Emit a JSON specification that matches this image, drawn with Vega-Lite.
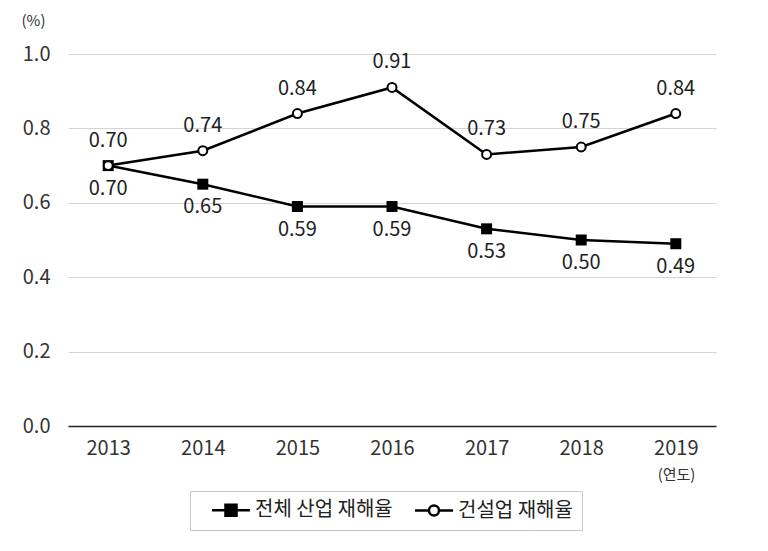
{
  "$schema": "https://vega.github.io/schema/vega-lite/v6.json",
  "width": 648,
  "height": 372,
  "autosize": "none",
  "padding": {"left": 68, "top": 54, "right": 52, "bottom": 125},
  "background": "white",
  "config": {
    "font": "Noto Sans CJK KR",
    "view": {"stroke": null}
  },
  "data": {
    "values": [
      {"year": "2013", "series": "전체 산업 재해율", "rate": 0.70},
      {"year": "2014", "series": "전체 산업 재해율", "rate": 0.65},
      {"year": "2015", "series": "전체 산업 재해율", "rate": 0.59},
      {"year": "2016", "series": "전체 산업 재해율", "rate": 0.59},
      {"year": "2017", "series": "전체 산업 재해율", "rate": 0.53},
      {"year": "2018", "series": "전체 산업 재해율", "rate": 0.50},
      {"year": "2019", "series": "전체 산업 재해율", "rate": 0.49},
      {"year": "2013", "series": "건설업 재해율", "rate": 0.70},
      {"year": "2014", "series": "건설업 재해율", "rate": 0.74},
      {"year": "2015", "series": "건설업 재해율", "rate": 0.84},
      {"year": "2016", "series": "건설업 재해율", "rate": 0.91},
      {"year": "2017", "series": "건설업 재해율", "rate": 0.73},
      {"year": "2018", "series": "건설업 재해율", "rate": 0.75},
      {"year": "2019", "series": "건설업 재해율", "rate": 0.84}
    ]
  },
  "encoding": {
    "x": {
      "field": "year",
      "type": "ordinal",
      "scale": {"type": "point", "padding": 0.425},
      "axis": {
        "title": "(연도)",
        "titleX": 608,
        "titleY": 48,
        "titleAlign": "center",
        "titleBaseline": "middle",
        "titleFontSize": 15,
        "titleFontWeight": "normal",
        "titleColor": "#333",
        "labelAngle": 0,
        "labelFontSize": 20,
        "labelColor": "#333",
        "labelPadding": 12,
        "ticks": false,
        "domainColor": "#222",
        "domainWidth": 1.5
      }
    },
    "y": {
      "field": "rate",
      "type": "quantitative",
      "scale": {"domain": [0, 1]},
      "axis": {
        "values": [0, 0.2, 0.4, 0.6, 0.8, 1.0],
        "format": ".1f",
        "title": "(%)",
        "titleAngle": 0,
        "titleX": -47,
        "titleY": -34,
        "titleAlign": "left",
        "titleBaseline": "middle",
        "titleFontSize": 15,
        "titleFontWeight": "normal",
        "titleColor": "#333",
        "labelFontSize": 20,
        "labelColor": "#333",
        "labelPadding": 18,
        "ticks": false,
        "domain": false,
        "gridColor": "#d4d4d4"
      }
    }
  },
  "layer": [
    {
      "mark": {"type": "line", "strokeWidth": 2.5},
      "encoding": {
        "color": {
          "field": "series",
          "type": "nominal",
          "scale": {"domain": ["전체 산업 재해율", "건설업 재해율"], "range": ["black", "black"]},
          "legend": {
            "title": null,
            "orient": "none",
            "legendX": 122,
            "legendY": 437,
            "direction": "horizontal",
            "labelFontSize": 20,
            "labelColor": "#222",
            "labelExpr": "datum.value === '건설업 재해율' ? datum.value + '\u2003' : datum.value",
            "symbolSize": 144,
            "symbolOffset": 22,
            "symbolStrokeWidth": 2.5,
            "labelOffset": 14,
            "columnPadding": 9,
            "padding": 9,
            "strokeColor": "#c8c8c8",
            "fillColor": "white",
            "encode": {
              "symbols": {
                "update": {
                  "shape": {"signal": "datum.value === '전체 산업 재해율' ? 'M-3.17,0L3.17,0M-0.92,-0.92L0.92,-0.92L0.92,0.92L-0.92,0.92Z' : 'M-3.17,0L-0.83,0M0.83,0L3.17,0M0.83,0A0.83,0.83 0 1,1 -0.83,0A0.83,0.83 0 1,1 0.83,0Z'"},
                  "fill": {"signal": "datum.value === '전체 산업 재해율' ? 'black' : 'white'"},
                  "stroke": {"value": "black"},
                  "strokeWidth": {"value": 2.5},
                  "opacity": {"value": 1}
                }
              }
            }
          }
        }
      }
    },
    {
      "transform": [{"filter": "datum.series === '전체 산업 재해율'"}],
      "mark": {"type": "point", "shape": "square", "size": 121, "filled": true, "color": "black", "opacity": 1}
    },
    {
      "transform": [{"filter": "datum.series === '건설업 재해율'"}],
      "mark": {"type": "point", "shape": "circle", "size": 80, "fill": "white", "stroke": "black", "strokeWidth": 2, "opacity": 1}
    },
    {
      "transform": [{"filter": "datum.series === '건설업 재해율'"}],
      "mark": {"type": "text", "dy": -25, "fontSize": 20, "color": "#222"},
      "encoding": {"text": {"field": "rate", "type": "quantitative", "format": ".2f"}}
    },
    {
      "transform": [{"filter": "datum.series === '전체 산업 재해율'"}],
      "mark": {"type": "text", "dy": 23, "fontSize": 20, "color": "#222"},
      "encoding": {"text": {"field": "rate", "type": "quantitative", "format": ".2f"}}
    }
  ]
}
